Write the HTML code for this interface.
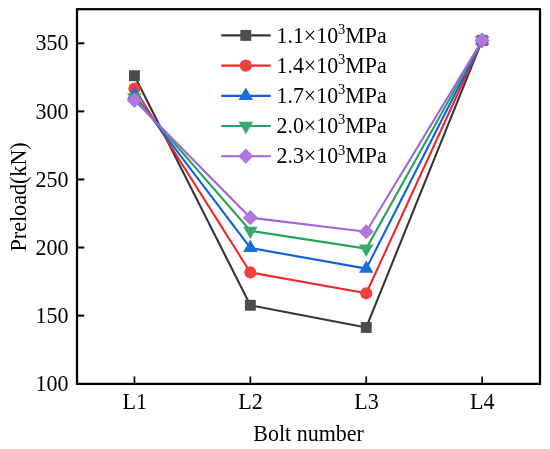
<!DOCTYPE html>
<html><head><meta charset="utf-8"><title>Preload chart</title>
<style>html,body{margin:0;padding:0;background:#fff}svg{display:block}text{font-family:"Liberation Serif","Times New Roman",serif;fill:#000}</style></head><body>
<svg width="550" height="449" viewBox="0 0 550 449">
<rect width="550" height="449" fill="#fff"/>
<polyline points="134.45,75.71 250.35,305.27 366.25,327.47 482.15,40.44" fill="none" stroke="#363636" stroke-width="2.1" stroke-linejoin="round"/>
<rect x="129.00" y="70.26" width="10.9" height="10.9" fill="#4d4d4d"/>
<rect x="244.90" y="299.82" width="10.9" height="10.9" fill="#4d4d4d"/>
<rect x="360.80" y="322.02" width="10.9" height="10.9" fill="#4d4d4d"/>
<rect x="476.70" y="34.99" width="10.9" height="10.9" fill="#4d4d4d"/>
<polyline points="134.45,88.51 250.35,272.46 366.25,293.29 482.15,40.44" fill="none" stroke="#ee2828" stroke-width="2.1" stroke-linejoin="round"/>
<circle cx="134.45" cy="88.51" r="6.1" fill="#f14040"/>
<circle cx="250.35" cy="272.46" r="6.1" fill="#f14040"/>
<circle cx="366.25" cy="293.29" r="6.1" fill="#f14040"/>
<circle cx="482.15" cy="40.44" r="6.1" fill="#f14040"/>
<polyline points="134.45,94.77 250.35,247.95 366.25,268.64 482.15,40.44" fill="none" stroke="#0e61e0" stroke-width="2.1" stroke-linejoin="round"/>
<polygon points="127.20,98.90 141.70,98.90 134.45,86.50" fill="#1a6fdf"/>
<polygon points="243.10,252.08 257.60,252.08 250.35,239.68" fill="#1a6fdf"/>
<polygon points="359.00,272.78 373.50,272.78 366.25,260.38" fill="#1a6fdf"/>
<polygon points="474.90,44.57 489.40,44.57 482.15,32.17" fill="#1a6fdf"/>
<polyline points="134.45,97.49 250.35,230.79 366.25,248.63 482.15,40.44" fill="none" stroke="#27a55d" stroke-width="2.1" stroke-linejoin="round"/>
<polygon points="127.20,93.36 141.70,93.36 134.45,105.76" fill="#37ad6b"/>
<polygon points="243.10,226.66 257.60,226.66 250.35,239.06" fill="#37ad6b"/>
<polygon points="359.00,244.50 373.50,244.50 366.25,256.90" fill="#37ad6b"/>
<polygon points="474.90,36.31 489.40,36.31 482.15,48.71" fill="#37ad6b"/>
<polyline points="134.45,100.35 250.35,217.72 366.25,231.75 482.15,40.44" fill="none" stroke="#a362df" stroke-width="2.1" stroke-linejoin="round"/>
<polygon points="126.85,100.35 134.45,92.75 142.05,100.35 134.45,107.95" fill="#b177de"/>
<polygon points="242.75,217.72 250.35,210.12 257.95,217.72 250.35,225.32" fill="#b177de"/>
<polygon points="358.65,231.75 366.25,224.15 373.85,231.75 366.25,239.35" fill="#b177de"/>
<polygon points="474.55,40.44 482.15,32.84 489.75,40.44 482.15,48.04" fill="#b177de"/>
<rect x="77.0" y="9.2" width="463.0" height="374.70" fill="none" stroke="#000" stroke-width="2.25"/>
<text transform="translate(68.6 390.85) scale(1 1.05)" font-size="22" text-anchor="end">100</text>
<line x1="77.0" x2="84.3" y1="315.62" y2="315.62" stroke="#000" stroke-width="2"/>
<text transform="translate(68.6 322.77) scale(1 1.05)" font-size="22" text-anchor="end">150</text>
<line x1="77.0" x2="84.3" y1="247.54" y2="247.54" stroke="#000" stroke-width="2"/>
<text transform="translate(68.6 254.69) scale(1 1.05)" font-size="22" text-anchor="end">200</text>
<line x1="77.0" x2="84.3" y1="179.46" y2="179.46" stroke="#000" stroke-width="2"/>
<text transform="translate(68.6 186.61) scale(1 1.05)" font-size="22" text-anchor="end">250</text>
<line x1="77.0" x2="84.3" y1="111.38" y2="111.38" stroke="#000" stroke-width="2"/>
<text transform="translate(68.6 118.53) scale(1 1.05)" font-size="22" text-anchor="end">300</text>
<line x1="77.0" x2="84.3" y1="43.30" y2="43.30" stroke="#000" stroke-width="2"/>
<text transform="translate(68.6 50.45) scale(1 1.05)" font-size="22" text-anchor="end">350</text>
<line x1="134.45" x2="134.45" y1="383.7" y2="376.4" stroke="#000" stroke-width="1.7"/>
<text transform="translate(134.65 408.9) scale(1 1.035)" font-size="22.1" text-anchor="middle">L1</text>
<line x1="250.35" x2="250.35" y1="383.7" y2="376.4" stroke="#000" stroke-width="1.7"/>
<text transform="translate(250.55 408.9) scale(1 1.035)" font-size="22.1" text-anchor="middle">L2</text>
<line x1="366.25" x2="366.25" y1="383.7" y2="376.4" stroke="#000" stroke-width="1.7"/>
<text transform="translate(366.45 408.9) scale(1 1.035)" font-size="22.1" text-anchor="middle">L3</text>
<line x1="482.15" x2="482.15" y1="383.7" y2="376.4" stroke="#000" stroke-width="1.7"/>
<text transform="translate(482.35 408.9) scale(1 1.035)" font-size="22.1" text-anchor="middle">L4</text>
<text transform="translate(308.6 441.4) scale(1 1.03)" font-size="22" text-anchor="middle">Bolt number</text>
<text transform="translate(25.9 196.9) rotate(-90)" font-size="22.1" text-anchor="middle">Preload(kN)</text>
<line x1="221.2" x2="270.7" y1="35.40" y2="35.40" stroke="#363636" stroke-width="2.15"/>
<rect x="240.35" y="29.95" width="10.9" height="10.9" fill="#4d4d4d"/>
<text transform="translate(276.5 42.50) scale(1 1.03)" font-size="21.9">1.1×10<tspan font-size="14.5" dy="-8.5">3</tspan><tspan dy="8.5">MPa</tspan></text>
<line x1="221.2" x2="270.7" y1="65.60" y2="65.60" stroke="#ee2828" stroke-width="2.15"/>
<circle cx="245.80" cy="65.60" r="6.1" fill="#f14040"/>
<text transform="translate(276.5 72.70) scale(1 1.03)" font-size="21.9">1.4×10<tspan font-size="14.5" dy="-8.5">3</tspan><tspan dy="8.5">MPa</tspan></text>
<line x1="221.2" x2="270.7" y1="95.80" y2="95.80" stroke="#0e61e0" stroke-width="2.15"/>
<polygon points="238.55,99.93 253.05,99.93 245.80,87.53" fill="#1a6fdf"/>
<text transform="translate(276.5 102.90) scale(1 1.03)" font-size="21.9">1.7×10<tspan font-size="14.5" dy="-8.5">3</tspan><tspan dy="8.5">MPa</tspan></text>
<line x1="221.2" x2="270.7" y1="126.00" y2="126.00" stroke="#27a55d" stroke-width="2.15"/>
<polygon points="238.55,121.87 253.05,121.87 245.80,134.27" fill="#37ad6b"/>
<text transform="translate(276.5 133.10) scale(1 1.03)" font-size="21.9">2.0×10<tspan font-size="14.5" dy="-8.5">3</tspan><tspan dy="8.5">MPa</tspan></text>
<line x1="221.2" x2="270.7" y1="156.20" y2="156.20" stroke="#a362df" stroke-width="2.15"/>
<polygon points="238.20,156.20 245.80,148.60 253.40,156.20 245.80,163.80" fill="#b177de"/>
<text transform="translate(276.5 163.30) scale(1 1.03)" font-size="21.9">2.3×10<tspan font-size="14.5" dy="-8.5">3</tspan><tspan dy="8.5">MPa</tspan></text>
</svg></body></html>
